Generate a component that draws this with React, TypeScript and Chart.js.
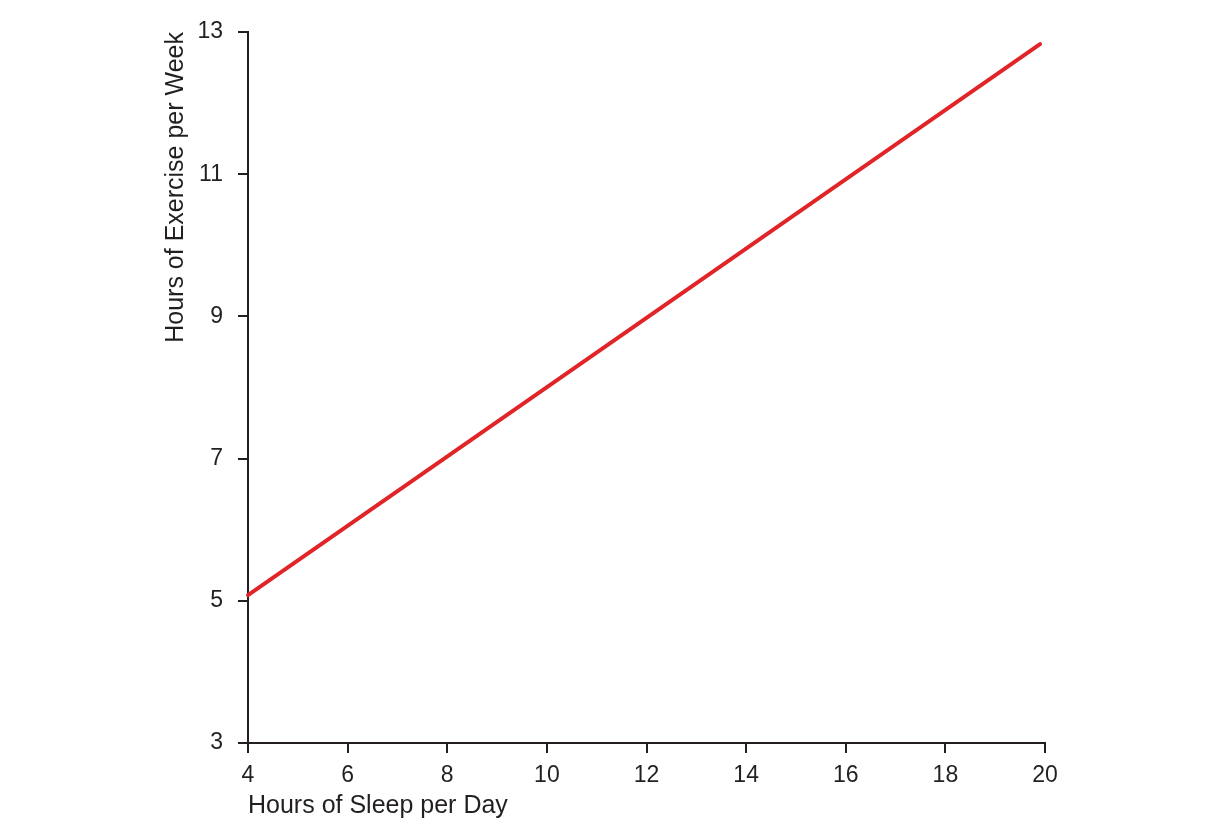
import { useEffect, useRef } from "react";
import { Chart, registerables } from "chart.js";

Chart.register(...registerables);

// line end points
const sleepHours = [4, 19.9];
const exerciseHours = [5.08, 12.83];

const xTicks = [4, 6, 8, 10, 12, 14, 16, 18, 20];
const yTicks = [3, 5, 7, 9, 11, 13];

const INK = "#231f20";
const FONT = "'Liberation Sans', Arial, Helvetica, sans-serif";

const App = () => {
  const canvasRef = useRef<HTMLCanvasElement>(null);

  useEffect(() => {
    if (!canvasRef.current) return;
    const ctx = canvasRef.current.getContext("2d");
    if (!ctx) return;

    const chart = new Chart(ctx, {
      type: "line",
      data: {
        datasets: [
          {
            label: "Exercise",
            data: sleepHours.map((x, i) => ({ x, y: exerciseHours[i] })),
            borderColor: "#e02428",
            backgroundColor: "#e02428",
            borderWidth: 4,
            borderCapStyle: "round",
            pointRadius: 0,
            fill: false,
            tension: 0,
            clip: false,
          },
        ],
      },
      options: {
        animation: false,
        responsive: true,
        maintainAspectRatio: false,
        layout: {
          padding: { left: 157, top: 32, right: 185, bottom: 18 },
        },
        plugins: {
          legend: { display: false },
          tooltip: { enabled: false },
        },
        scales: {
          x: {
            type: "linear",
            min: xTicks[0],
            max: xTicks[xTicks.length - 1],
            afterFit: (scale: any) => {
              scale.height = 78;
            },
            afterBuildTicks: (scale: any) => {
              scale.ticks = xTicks.map((value) => ({ value }));
            },
            border: { display: true, color: INK, width: 2 },
            grid: {
              drawOnChartArea: false,
              drawTicks: true,
              tickLength: 10,
              color: INK,
              lineWidth: 2,
            },
            ticks: {
              color: INK,
              padding: 9,
              maxRotation: 0,
              font: { family: FONT, size: 23 },
            },
            title: {
              display: true,
              text: "Hours of Sleep per Day",
              align: "start",
              color: INK,
              padding: { top: 0, bottom: 0 },
              font: { family: FONT, size: 25 },
            },
          },
          y: {
            type: "linear",
            min: yTicks[0],
            max: yTicks[yTicks.length - 1],
            afterFit: (scale: any) => {
              scale.width = 91;
            },
            afterBuildTicks: (scale: any) => {
              scale.ticks = yTicks.map((value) => ({ value }));
            },
            border: { display: true, color: INK, width: 2 },
            grid: {
              drawOnChartArea: false,
              drawTicks: true,
              tickLength: 10,
              color: INK,
              lineWidth: 2,
            },
            ticks: {
              color: INK,
              padding: 15,
              font: { family: FONT, size: 23 },
            },
            title: {
              display: true,
              text: "Hours of Exercise per Week",
              align: "end",
              color: INK,
              padding: { top: 4, bottom: 0 },
              font: { family: FONT, size: 25 },
            },
          },
        },
      },
    });

    return () => chart.destroy();
  }, []);

  return (
    <div
      style={{
        position: "fixed",
        left: 0,
        top: 0,
        width: 1230,
        height: 839,
        background: "#fff",
      }}
    >
      <canvas ref={canvasRef}></canvas>
    </div>
  );
};

export default App;
